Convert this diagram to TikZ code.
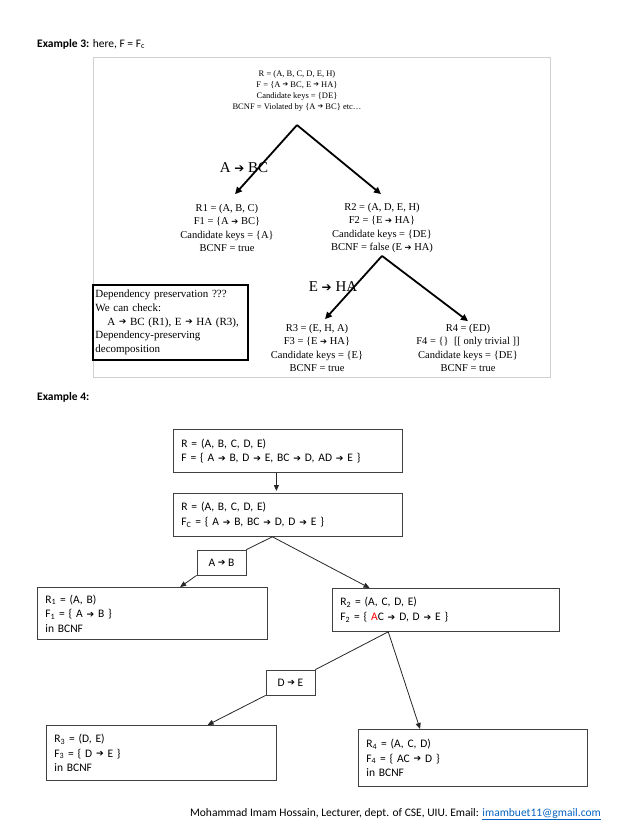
\documentclass[tikz,border=0pt]{standalone}
\usepackage{fontspec}
\setmainfont{Carlito}
\newfontfamily\bookfont{Liberation Serif}
\newfontfamily\arrowfont{DejaVu Sans}
\usetikzlibrary{arrows.meta, positioning, calc}
\definecolor{linkblue}{HTML}{0563C1}
\definecolor{framegray}{HTML}{D0D0D0}
\newcommand{\arr}{\raisebox{0.03em}{\scalebox{0.8}{\arrowfont ➔}}}

\tikzset{
  pagetext/.style={font=\fontsize{11.5}{14}\selectfont, inner sep=0pt},
  relbox/.style={draw=black!75, line width=0.8pt, anchor=north west, align=left,
    inner xsep=8pt, font=\fontsize{11.5}{14.5}\selectfont},
  fdbox/.style={draw=black!75, line width=0.8pt, inner sep=0pt,
    font=\fontsize{11.5}{14}\selectfont},
  booktext/.style={font=\bookfont\fontsize{10.5}{13.3}\selectfont, align=center, inner sep=0pt},
  bookarrow/.style={line width=1.8pt, -{Triangle[length=7pt,width=6.5pt]}},
  thinarrow/.style={line width=0.8pt, black!85, -{Triangle[length=6pt,width=5pt]}},
}

\begin{document}
\begin{tikzpicture}[x=1pt, y=-1pt]
\useasboundingbox (0,0) rectangle (638,826);

% Headings
\node[pagetext, anchor=west] (ex3) at (37,44) {\textbf{Example 3:} here, F = F\textsubscript{c}};
\node[pagetext, anchor=west] (ex4) at (37,397) {\textbf{Example 4:}};

%% Example 3 (picture)
\draw[framegray] (93,57) rectangle (550,377);

\node[booktext, font=\bookfont\fontsize{8.5}{11}\selectfont] (rel) at (297,90.5)
  {R = (A, B, C, D, E, H)\\ F = \{A \arr{} BC, E \arr{} HA\}\\
   Candidate keys = \{DE\}\\ BCNF = Violated by \{A \arr{} BC\} etc…};

\node[booktext] (r1) at (227,228)
  {R1 = (A, B, C)\\ F1 = \{A \arr{} BC\}\\ Candidate keys = \{A\}\\ BCNF = true};
\node[booktext] (r2) at (382,228)
  {R2 = (A, D, E, H)\\ F2 = \{E \arr{} HA\}\\ Candidate keys = \{DE\}\\ BCNF = false (E \arr{} HA)};
\node[booktext] (r3) at (317,348)
  {R3 = (E, H, A)\\ F3 = \{E \arr{} HA\}\\ Candidate keys = \{E\}\\ BCNF = true};
\node[booktext] (r4) at (468,348)
  {R4 = (ED)\\ F4 = \{\} \ [[ only trivial ]]\\ Candidate keys = \{DE\}\\ BCNF = true};

\node[booktext, font=\bookfont\fontsize{15}{18}\selectfont] (split-a) at (244,168) {A \arr{} BC};
\node[booktext, font=\bookfont\fontsize{15}{18}\selectfont] (split-e) at (333,287) {E \arr{} HA};

\node[draw, line width=1.8pt, anchor=north west, align=left, text width=150pt,
  minimum height=75pt, inner xsep=2.5pt, inner ysep=0pt,
  font=\bookfont\fontsize{11}{13.8}\selectfont] (note) at (92,284)
  {Dependency preservation ???\\ We can check:\\
   \hspace*{12pt}A \arr{} BC (R1), E \arr{} HA (R3),\\
   Dependency-preserving\\ decomposition};

\coordinate (top1) at ([yshift=-14pt]rel.south);
\coordinate (top2) at ([yshift=-3pt]r2.south);

\draw[bookarrow] (top1) -- ([xshift=8pt, yshift=10pt]r1.north);
\draw[bookarrow] (top1) -- ([xshift=-1pt, yshift=9pt]r2.north);
\draw[bookarrow] (top2) -- ([xshift=8pt, yshift=5pt]r3.north);
\draw[bookarrow] (top2) -- ([xshift=0pt, yshift=3pt]r4.north);

%% Example 4
\node[relbox, text width=213pt, minimum height=43pt] (b1) at (173,429)
  {R = (A, B, C, D, E)\\ F = \{ A \arr{} B, D \arr{} E, BC \arr{} D, AD \arr{} E \}};
\node[relbox, text width=213pt, minimum height=43pt] (b2) at (173,493)
  {R = (A, B, C, D, E)\\ F\textsubscript{C} = \{ A \arr{} B, BC \arr{} D, D \arr{} E \}};

\node[relbox, text width=214pt, minimum height=52pt] (b3) at (37,587)
  {R\textsubscript{1} = (A, B)\\ F\textsubscript{1} = \{ A \arr{} B \}\\ in BCNF};
\node[relbox, text width=211pt, minimum height=43pt] (b4) at (332,588)
  {R\textsubscript{2} = (A, C, D, E)\\ F\textsubscript{2} = \{ \textcolor{red}{A}C \arr{} D, D \arr{} E \}};
\node[relbox, text width=214pt, minimum height=55pt] (b5) at (46,725)
  {R\textsubscript{3} = (D, E)\\ F\textsubscript{3} = \{ D \arr{} E \}\\ in BCNF};
\node[relbox, text width=213pt, minimum height=57pt] (b6) at (358,729)
  {R\textsubscript{4} = (A, C, D)\\ F\textsubscript{4} = \{ AC \arr{} D \}\\ in BCNF};

\node[fdbox, minimum width=49pt, minimum height=25pt] (fd1) at (221.5,562.5) {A \arr{} B};
\node[fdbox, minimum width=49pt, minimum height=25pt] (fd2) at (290.5,682.5) {D \arr{} E};

\draw[thinarrow] ([xshift=-11.5pt]b1.south) -- ([xshift=-11.5pt, yshift=2pt]b2.north);

\coordinate (cut1) at ([xshift=-15.5pt]b2.south);
\coordinate (cut2) at ($(b4.south west)!0.247!(b4.south east)$);

\draw[line width=0.8pt, black!85] (cut1) -- (fd1.north east);
\draw[thinarrow] (fd1.south west) -- ($(b3.north west)!0.62!(b3.north east)$);
\draw[thinarrow] (cut1) -- ($(b4.north west)!0.165!(b4.north east)$);

\draw[line width=0.8pt, black!85] (cut2) -- (fd2.north east);
\draw[thinarrow] (fd2.south west) -- ($(b5.north west)!0.70!(b5.north east)$);
\draw[thinarrow] (cut2) -- ($(b6.north west)!0.27!(b6.north east)$);

% Footer
\node[pagetext, anchor=east] (foot) at (601,814)
  {Mohammad Imam Hossain, Lecturer, dept. of CSE, UIU. Email: \textcolor{linkblue}{\underline{imambuet11@gmail.com}}};
\end{tikzpicture}
\end{document}
